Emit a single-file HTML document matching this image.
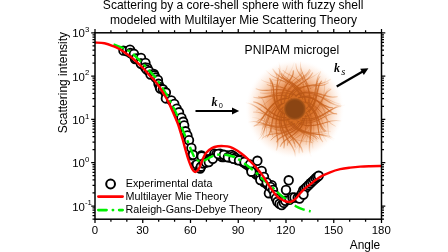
<!DOCTYPE html>
<html><head><meta charset="utf-8"><title>Scattering by a core-shell sphere</title>
<style>
html,body{margin:0;padding:0;background:#fff;}
svg{display:block;font-family:"Liberation Sans",Arial,sans-serif;font-size:12px;fill:#000;}
</style></head><body>
<svg width="448" height="252" viewBox="0 0 448 252">
<defs>
<radialGradient id="glow" cx="50%" cy="50%" r="50%">
<stop offset="0" stop-color="#d2691e" stop-opacity="1"/>
<stop offset="0.3" stop-color="#d66e24" stop-opacity="1"/>
<stop offset="0.42" stop-color="#e07c38" stop-opacity="1"/>
<stop offset="0.57" stop-color="#eea06a" stop-opacity="0.9"/>
<stop offset="0.74" stop-color="#f7c4a0" stop-opacity="0.62"/>
<stop offset="0.9" stop-color="#fde2d0" stop-opacity="0.28"/>
<stop offset="1" stop-color="#ffffff" stop-opacity="0"/>
</radialGradient>
<radialGradient id="core" cx="50%" cy="50%" r="50%">
<stop offset="0" stop-color="#8b4513"/>
<stop offset="0.7" stop-color="#8b4513"/>
<stop offset="0.84" stop-color="#9a4d15" stop-opacity="0.85"/>
<stop offset="1" stop-color="#c4651f" stop-opacity="0"/>
</radialGradient>
<radialGradient id="sg" gradientUnits="userSpaceOnUse" cx="294.8" cy="109.0" r="48">
<stop offset="0" stop-color="#a84e12" stop-opacity="1"/>
<stop offset="0.45" stop-color="#bf5a18" stop-opacity="1"/>
<stop offset="0.7" stop-color="#cf6a26" stop-opacity="0.8"/>
<stop offset="0.88" stop-color="#e08444" stop-opacity="0.4"/>
<stop offset="1" stop-color="#e89050" stop-opacity="0.05"/>
</radialGradient>
<filter id="bl" x="-10%" y="-10%" width="120%" height="120%"><feGaussianBlur stdDeviation="0.18"/></filter>
</defs>
<rect width="448" height="252" fill="#fff"/>
<text x="233.1" y="9.3" text-anchor="middle" font-size="12.05">Scattering by a core-shell sphere with fuzzy shell</text>
<text x="233.5" y="23.7" text-anchor="middle" font-size="12.05">modeled with Multilayer Mie Scattering Theory</text>
<!-- microgel -->
<circle cx="294.8" cy="109.0" r="50" fill="url(#glow)"/>
<g fill="none" stroke="url(#sg)" stroke-linecap="round" filter="url(#bl)"><path d="M306.40,108.63C307.08,107.88 309.36,105.84 310.51,104.14C311.65,102.44 312.54,100.41 313.27,98.44C314.00,96.47 314.46,94.35 314.91,92.34C315.35,90.33 315.59,88.29 315.92,86.38C316.26,84.46 316.49,82.60 316.90,80.85C317.31,79.11 317.75,77.46 318.38,75.92C319.02,74.39 320.32,72.36 320.71,71.65" stroke-width="1.17" opacity="0.81"/><path d="M307.83,109.27C308.26,110.13 309.81,112.62 310.40,114.44C311.00,116.26 311.26,118.30 311.40,120.19C311.54,122.08 311.38,124.01 311.25,125.80C311.12,127.58 310.80,129.30 310.60,130.90C310.41,132.50 310.15,133.99 310.08,135.40C310.02,136.80 310.01,138.09 310.21,139.30C310.41,140.51 311.10,142.11 311.28,142.67" stroke-width="0.93" opacity="0.73"/><path d="M308.83,111.78C309.45,111.05 311.49,108.97 312.50,107.37C313.52,105.77 314.28,103.92 314.92,102.17C315.56,100.42 315.96,98.58 316.35,96.88C316.73,95.17 316.95,93.49 317.25,91.95C317.56,90.41 317.79,88.95 318.16,87.62C318.54,86.30 318.94,85.09 319.51,84.02C320.08,82.95 321.23,81.65 321.57,81.18" stroke-width="1.21" opacity="0.98"/><path d="M306.73,113.00C307.23,113.99 308.99,116.81 309.68,118.93C310.37,121.04 310.69,123.44 310.87,125.71C311.05,127.99 310.91,130.35 310.78,132.59C310.65,134.82 310.30,137.03 310.08,139.14C309.87,141.24 309.57,143.27 309.48,145.23C309.40,147.18 309.36,149.05 309.57,150.86C309.78,152.67 310.54,155.20 310.74,156.07" stroke-width="1.33" opacity="0.79"/><path d="M305.56,112.99C306.38,112.30 309.12,110.52 310.49,108.85C311.86,107.18 312.94,105.02 313.77,102.97C314.60,100.91 315.06,98.64 315.47,96.54C315.87,94.45 315.98,92.33 316.19,90.39C316.40,88.46 316.46,86.61 316.74,84.92C317.01,83.24 317.29,81.69 317.82,80.30C318.34,78.90 319.55,77.18 319.89,76.56" stroke-width="0.99" opacity="0.87"/><path d="M305.49,115.46C305.66,116.44 306.45,119.33 306.52,121.33C306.58,123.33 306.28,125.46 305.89,127.45C305.51,129.44 304.84,131.42 304.21,133.29C303.59,135.16 302.79,136.94 302.14,138.67C301.49,140.40 300.80,142.03 300.31,143.65C299.82,145.26 299.40,146.81 299.21,148.36C299.01,149.90 299.16,152.15 299.15,152.91" stroke-width="0.93" opacity="0.76"/><path d="M304.83,116.80C305.81,116.40 308.89,115.49 310.68,114.37C312.47,113.25 314.15,111.66 315.59,110.09C317.03,108.52 318.23,106.67 319.34,104.96C320.45,103.26 321.33,101.45 322.23,99.84C323.14,98.23 323.91,96.65 324.79,95.29C325.67,93.93 326.53,92.70 327.53,91.68C328.53,90.67 330.26,89.62 330.80,89.21" stroke-width="1.13" opacity="0.79"/><path d="M304.60,118.72C304.25,119.72 303.52,122.89 302.54,124.77C301.56,126.64 300.11,128.42 298.69,129.97C297.28,131.53 295.58,132.86 294.03,134.09C292.47,135.32 290.82,136.33 289.37,137.35C287.91,138.37 286.49,139.26 285.30,140.22C284.11,141.19 283.05,142.12 282.21,143.16C281.38,144.20 280.63,145.92 280.31,146.47" stroke-width="1.16" opacity="0.96"/><path d="M302.55,118.36C303.66,118.46 306.96,119.11 309.21,118.96C311.46,118.82 313.84,118.21 316.05,117.50C318.26,116.80 320.43,115.74 322.47,114.73C324.52,113.73 326.45,112.52 328.34,111.48C330.23,110.43 332.01,109.34 333.80,108.47C335.59,107.61 337.32,106.83 339.09,106.30C340.86,105.77 343.52,105.48 344.41,105.32" stroke-width="1.11" opacity="0.93"/><path d="M303.10,118.95C302.66,119.86 301.61,122.80 300.45,124.46C299.29,126.13 297.70,127.64 296.15,128.93C294.61,130.21 292.82,131.25 291.19,132.20C289.55,133.15 287.85,133.87 286.34,134.63C284.83,135.38 283.37,136.00 282.12,136.73C280.87,137.47 279.76,138.18 278.85,139.03C277.93,139.88 277.02,141.36 276.65,141.83" stroke-width="1.28" opacity="0.87"/><path d="M300.20,120.00C301.32,120.17 304.66,121.07 306.96,121.00C309.25,120.93 311.74,120.32 313.98,119.58C316.23,118.85 318.41,117.69 320.43,116.60C322.45,115.51 324.31,114.17 326.10,113.04C327.89,111.90 329.53,110.71 331.18,109.78C332.83,108.86 334.39,108.03 335.99,107.49C337.58,106.96 339.98,106.73 340.77,106.58" stroke-width="1.19" opacity="0.84"/><path d="M300.04,122.82C299.22,123.65 297.00,126.45 295.13,127.83C293.26,129.21 290.97,130.26 288.81,131.09C286.66,131.92 284.34,132.39 282.20,132.82C280.07,133.25 277.95,133.40 276.03,133.67C274.10,133.93 272.28,134.06 270.64,134.40C269.01,134.74 267.52,135.10 266.21,135.68C264.90,136.27 263.34,137.55 262.76,137.92" stroke-width="0.93" opacity="0.91"/><path d="M299.05,123.36C300.14,123.70 303.35,125.04 305.62,125.40C307.89,125.75 310.37,125.68 312.67,125.50C314.97,125.31 317.28,124.77 319.44,124.28C321.59,123.79 323.66,123.09 325.62,122.56C327.57,122.02 329.41,121.43 331.19,121.07C332.96,120.72 334.64,120.45 336.26,120.44C337.89,120.44 340.16,120.93 340.94,121.03" stroke-width="1.09" opacity="0.90"/><path d="M298.60,121.27C298.04,121.99 296.53,124.32 295.23,125.60C293.93,126.89 292.33,128.00 290.79,128.97C289.25,129.95 287.55,130.72 285.97,131.46C284.39,132.20 282.78,132.78 281.31,133.42C279.83,134.05 278.41,134.60 277.13,135.27C275.86,135.94 274.68,136.61 273.66,137.42C272.64,138.23 271.45,139.68 271.01,140.13" stroke-width="0.93" opacity="0.93"/><path d="M296.85,120.81C297.91,121.17 300.99,122.64 303.22,122.95C305.45,123.25 307.96,123.02 310.23,122.63C312.50,122.24 314.76,121.39 316.82,120.59C318.89,119.79 320.81,118.72 322.62,117.84C324.43,116.95 326.07,115.99 327.69,115.30C329.30,114.61 330.80,114.01 332.29,113.71C333.78,113.41 335.92,113.54 336.64,113.50" stroke-width="0.94" opacity="0.83"/><path d="M294.74,123.53C293.57,124.10 290.25,126.23 287.75,126.93C285.25,127.62 282.37,127.76 279.75,127.69C277.12,127.61 274.45,127.03 272.00,126.48C269.56,125.93 267.24,125.05 265.09,124.38C262.93,123.71 260.95,122.92 259.06,122.44C257.16,121.96 255.42,121.57 253.74,121.50C252.06,121.44 249.77,121.97 248.98,122.07" stroke-width="1.04" opacity="0.82"/><path d="M293.65,123.49C294.48,124.27 296.78,126.84 298.66,128.14C300.54,129.44 302.79,130.46 304.95,131.31C307.11,132.16 309.43,132.71 311.60,133.25C313.78,133.78 315.98,134.09 318.02,134.50C320.06,134.91 322.03,135.23 323.85,135.72C325.67,136.22 327.38,136.75 328.93,137.49C330.49,138.23 332.48,139.73 333.18,140.18" stroke-width="0.99" opacity="0.77"/><path d="M292.78,121.78C291.85,122.27 289.20,124.04 287.21,124.74C285.21,125.43 282.94,125.78 280.81,125.98C278.67,126.18 276.46,126.06 274.39,125.95C272.32,125.85 270.29,125.52 268.38,125.34C266.46,125.15 264.64,124.88 262.91,124.82C261.18,124.76 259.55,124.76 258.00,124.99C256.44,125.23 254.33,126.02 253.59,126.22" stroke-width="0.90" opacity="0.83"/><path d="M291.00,121.71C291.81,122.66 293.91,125.81 295.86,127.40C297.81,128.98 300.33,130.24 302.72,131.22C305.12,132.19 307.77,132.76 310.23,133.25C312.69,133.75 315.18,133.93 317.47,134.21C319.76,134.50 321.96,134.62 323.97,134.98C325.99,135.35 327.85,135.72 329.54,136.38C331.23,137.03 333.34,138.49 334.10,138.92" stroke-width="1.16" opacity="0.89"/><path d="M289.96,119.12C288.78,119.35 285.30,120.51 282.85,120.48C280.40,120.45 277.68,119.78 275.26,118.94C272.83,118.11 270.47,116.75 268.30,115.46C266.13,114.17 264.15,112.59 262.24,111.21C260.34,109.84 258.61,108.38 256.86,107.23C255.10,106.08 253.44,105.02 251.72,104.30C249.99,103.57 247.36,103.11 246.49,102.88" stroke-width="1.34" opacity="0.94"/><path d="M288.71,120.03C289.29,120.87 290.76,123.59 292.15,125.06C293.55,126.52 295.37,127.78 297.10,128.82C298.84,129.86 300.78,130.62 302.57,131.32C304.36,132.01 306.19,132.47 307.83,133.00C309.48,133.53 311.06,133.93 312.45,134.47C313.84,135.02 315.10,135.57 316.19,136.28C317.27,137.00 318.49,138.37 318.95,138.79" stroke-width="0.93" opacity="0.72"/><path d="M288.50,118.80C287.58,118.94 284.86,119.63 282.99,119.65C281.12,119.68 279.13,119.35 277.27,118.95C275.41,118.56 273.58,117.89 271.84,117.27C270.09,116.65 268.43,115.87 266.82,115.23C265.22,114.59 263.69,113.91 262.18,113.42C260.68,112.93 259.23,112.51 257.78,112.29C256.33,112.08 254.21,112.17 253.50,112.14" stroke-width="0.90" opacity="0.75"/><path d="M287.15,118.83C287.66,119.75 288.91,122.72 290.23,124.34C291.56,125.96 293.37,127.39 295.10,128.56C296.83,129.73 298.81,130.59 300.62,131.37C302.43,132.15 304.29,132.66 305.96,133.22C307.62,133.79 309.21,134.20 310.60,134.77C311.98,135.33 313.22,135.88 314.27,136.60C315.31,137.33 316.43,138.70 316.86,139.12" stroke-width="1.21" opacity="0.74"/><path d="M286.01,117.73C285.06,117.62 282.17,117.55 280.31,117.06C278.45,116.57 276.57,115.70 274.85,114.80C273.13,113.89 271.51,112.73 269.97,111.64C268.44,110.55 267.04,109.34 265.65,108.28C264.27,107.21 262.98,106.14 261.66,105.27C260.34,104.39 259.06,103.60 257.74,103.03C256.41,102.46 254.36,102.02 253.69,101.82" stroke-width="1.32" opacity="1.00"/><path d="M284.38,116.67C284.42,117.56 284.31,120.26 284.61,122.02C284.91,123.77 285.54,125.55 286.20,127.20C286.85,128.84 287.74,130.41 288.55,131.89C289.36,133.37 290.29,134.74 291.07,136.07C291.85,137.40 292.64,138.64 293.24,139.88C293.84,141.12 294.36,142.31 294.68,143.52C295.00,144.72 295.09,146.52 295.17,147.11" stroke-width="1.07" opacity="0.78"/><path d="M284.41,114.27C283.60,113.61 280.90,111.92 279.55,110.33C278.20,108.75 277.12,106.69 276.30,104.76C275.48,102.82 275.03,100.68 274.63,98.72C274.23,96.77 274.11,94.80 273.91,93.02C273.70,91.24 273.63,89.55 273.38,88.04C273.12,86.53 272.85,85.16 272.36,83.94C271.87,82.73 270.75,81.29 270.43,80.76" stroke-width="1.16" opacity="0.74"/><path d="M284.62,113.44C284.47,114.58 283.58,117.97 283.76,120.29C283.95,122.61 284.77,125.13 285.74,127.35C286.70,129.57 288.17,131.68 289.54,133.59C290.92,135.50 292.57,137.19 293.99,138.82C295.41,140.44 296.90,141.87 298.09,143.35C299.28,144.83 300.36,146.20 301.12,147.67C301.89,149.14 302.42,151.41 302.68,152.15" stroke-width="1.33" opacity="0.91"/><path d="M283.14,113.41C282.37,112.69 279.78,110.75 278.52,109.05C277.25,107.36 276.29,105.24 275.55,103.24C274.80,101.25 274.41,99.08 274.06,97.09C273.72,95.10 273.64,93.12 273.45,91.31C273.27,89.50 273.22,87.79 272.97,86.24C272.72,84.69 272.45,83.28 271.95,82.02C271.46,80.76 270.33,79.23 270.01,78.67" stroke-width="1.17" opacity="0.93"/><path d="M283.25,111.83C282.88,113.02 281.28,116.45 281.04,118.96C280.80,121.46 281.21,124.32 281.82,126.86C282.44,129.41 283.61,131.94 284.73,134.24C285.85,136.54 287.30,138.65 288.52,140.65C289.75,142.66 291.08,144.46 292.08,146.26C293.08,148.06 293.99,149.74 294.54,151.45C295.10,153.17 295.25,155.70 295.40,156.55" stroke-width="1.33" opacity="0.94"/><path d="M280.86,109.73C280.35,108.81 278.52,106.18 277.79,104.22C277.05,102.27 276.69,100.05 276.46,98.00C276.24,95.94 276.35,93.84 276.44,91.89C276.53,89.95 276.84,88.08 277.01,86.34C277.18,84.61 277.43,82.99 277.47,81.48C277.51,79.97 277.49,78.59 277.25,77.30C277.00,76.01 276.21,74.34 276.00,73.75" stroke-width="1.08" opacity="0.71"/><path d="M282.73,110.03C282.30,110.99 280.66,113.74 280.14,115.78C279.62,117.83 279.53,120.16 279.60,122.29C279.67,124.43 280.14,126.60 280.57,128.60C281.00,130.61 281.68,132.51 282.20,134.30C282.72,136.09 283.33,137.74 283.69,139.33C284.05,140.91 284.35,142.38 284.38,143.81C284.41,145.23 283.95,147.19 283.87,147.86" stroke-width="1.38" opacity="0.83"/><path d="M280.09,106.34C279.61,105.24 277.83,102.07 277.21,99.74C276.60,97.41 276.43,94.80 276.41,92.37C276.38,89.93 276.75,87.45 277.08,85.14C277.41,82.82 277.99,80.59 278.40,78.48C278.81,76.37 279.31,74.39 279.55,72.49C279.79,70.59 279.96,68.81 279.85,67.10C279.73,65.38 279.04,63.03 278.88,62.22" stroke-width="1.01" opacity="0.77"/><path d="M283.12,107.18C282.37,108.09 279.75,110.53 278.63,112.63C277.50,114.72 276.80,117.32 276.37,119.74C275.94,122.16 275.99,124.76 276.06,127.15C276.13,129.53 276.55,131.88 276.81,134.05C277.07,136.22 277.48,138.27 277.63,140.18C277.77,142.10 277.87,143.87 277.66,145.54C277.46,147.20 276.60,149.41 276.38,150.18" stroke-width="1.32" opacity="0.84"/><path d="M281.40,104.31C281.35,103.24 280.89,100.00 281.12,97.91C281.35,95.81 282.05,93.66 282.79,91.74C283.54,89.81 284.62,88.01 285.60,86.36C286.57,84.70 287.71,83.23 288.66,81.83C289.61,80.42 290.57,79.17 291.29,77.93C292.00,76.68 292.60,75.53 292.96,74.36C293.31,73.19 293.33,71.50 293.41,70.92" stroke-width="1.35" opacity="0.93"/><path d="M283.25,103.22C282.41,103.90 279.63,105.67 278.20,107.29C276.78,108.90 275.63,110.96 274.72,112.91C273.81,114.86 273.24,117.02 272.72,118.99C272.21,120.96 271.97,122.94 271.63,124.73C271.30,126.53 271.11,128.23 270.73,129.75C270.36,131.27 269.97,132.64 269.38,133.84C268.78,135.05 267.53,136.44 267.16,136.97" stroke-width="1.07" opacity="0.94"/><path d="M284.44,101.86C284.62,100.71 284.73,97.17 285.50,94.99C286.28,92.80 287.68,90.61 289.11,88.73C290.55,86.86 292.39,85.21 294.09,83.73C295.79,82.24 297.67,81.03 299.31,79.83C300.96,78.63 302.59,77.62 303.96,76.52C305.32,75.41 306.55,74.37 307.49,73.20C308.44,72.03 309.28,70.09 309.63,69.47" stroke-width="1.26" opacity="0.75"/><path d="M284.98,102.82C283.85,103.30 280.27,104.28 278.22,105.67C276.17,107.07 274.26,109.15 272.69,111.20C271.12,113.26 269.88,115.71 268.78,118.00C267.68,120.28 266.91,122.71 266.08,124.91C265.24,127.12 264.61,129.29 263.79,131.21C262.96,133.14 262.17,134.92 261.13,136.47C260.09,138.01 258.15,139.81 257.56,140.48" stroke-width="0.97" opacity="0.95"/><path d="M285.45,99.08C285.79,98.06 286.52,94.86 287.52,92.96C288.51,91.05 289.99,89.24 291.44,87.66C292.89,86.07 294.63,84.70 296.23,83.44C297.84,82.18 299.55,81.14 301.06,80.08C302.57,79.03 304.05,78.11 305.30,77.11C306.55,76.10 307.67,75.13 308.56,74.04C309.45,72.96 310.29,71.16 310.63,70.58" stroke-width="0.97" opacity="0.70"/><path d="M286.59,98.16C285.40,98.42 281.70,98.79 279.46,99.74C277.22,100.70 275.02,102.29 273.16,103.88C271.29,105.48 269.68,107.48 268.24,109.32C266.80,111.16 265.64,113.16 264.49,114.92C263.34,116.68 262.38,118.41 261.31,119.86C260.25,121.32 259.24,122.62 258.09,123.64C256.93,124.66 254.99,125.59 254.37,125.98" stroke-width="1.12" opacity="0.96"/><path d="M288.37,99.06C288.71,98.16 289.48,95.37 290.44,93.70C291.40,92.03 292.76,90.45 294.11,89.05C295.46,87.64 297.05,86.41 298.54,85.26C300.03,84.11 301.61,83.14 303.03,82.14C304.46,81.15 305.87,80.26 307.08,79.29C308.30,78.31 309.41,77.36 310.33,76.29C311.25,75.22 312.21,73.44 312.59,72.87" stroke-width="1.02" opacity="0.88"/><path d="M287.99,98.31C286.91,98.49 283.57,98.65 281.53,99.38C279.48,100.11 277.45,101.39 275.70,102.69C273.95,103.99 272.42,105.65 271.04,107.17C269.65,108.70 268.52,110.37 267.40,111.82C266.27,113.28 265.33,114.71 264.30,115.90C263.28,117.08 262.32,118.13 261.25,118.92C260.18,119.71 258.45,120.36 257.89,120.65" stroke-width="1.08" opacity="0.84"/><path d="M288.99,95.59C289.86,94.72 292.22,91.80 294.22,90.41C296.22,89.03 298.70,88.03 301.00,87.29C303.30,86.55 305.77,86.24 308.02,85.97C310.27,85.70 312.48,85.75 314.49,85.66C316.49,85.58 318.37,85.65 320.05,85.48C321.74,85.31 323.26,85.12 324.62,84.66C325.97,84.21 327.59,83.07 328.18,82.75" stroke-width="1.15" opacity="0.86"/><path d="M291.42,98.45C290.53,98.05 287.99,96.58 286.09,96.06C284.19,95.54 282.06,95.37 280.04,95.33C278.02,95.29 275.95,95.55 274.00,95.80C272.04,96.05 270.13,96.50 268.31,96.82C266.48,97.15 264.74,97.54 263.06,97.74C261.38,97.94 259.77,98.08 258.22,98.00C256.66,97.92 254.47,97.38 253.72,97.26" stroke-width="0.90" opacity="0.94"/><path d="M291.32,96.58C292.07,95.71 294.03,92.82 295.82,91.34C297.61,89.87 299.88,88.68 302.05,87.73C304.22,86.78 306.62,86.18 308.85,85.63C311.08,85.09 313.34,84.83 315.42,84.46C317.51,84.09 319.51,83.87 321.34,83.44C323.17,83.01 324.86,82.56 326.39,81.88C327.92,81.19 329.82,79.75 330.50,79.32" stroke-width="1.06" opacity="0.86"/><path d="M293.46,94.93C292.47,94.60 289.56,93.32 287.53,92.97C285.49,92.63 283.29,92.69 281.27,92.85C279.26,93.02 277.26,93.51 275.43,93.96C273.59,94.40 271.88,95.04 270.27,95.52C268.67,96.00 267.19,96.53 265.79,96.83C264.40,97.14 263.11,97.37 261.88,97.36C260.65,97.35 258.99,96.88 258.42,96.78" stroke-width="1.02" opacity="0.78"/><path d="M295.38,95.98C296.42,95.47 299.39,93.54 301.64,92.89C303.88,92.25 306.47,92.08 308.85,92.11C311.22,92.14 313.66,92.61 315.89,93.06C318.12,93.51 320.26,94.25 322.25,94.81C324.24,95.37 326.09,96.04 327.86,96.43C329.62,96.82 331.26,97.14 332.84,97.16C334.41,97.19 336.57,96.66 337.32,96.56" stroke-width="1.36" opacity="0.83"/><path d="M296.42,96.08C295.51,95.41 292.98,93.05 290.94,92.03C288.90,91.02 286.47,90.39 284.19,89.98C281.92,89.57 279.52,89.56 277.30,89.56C275.09,89.57 272.92,89.85 270.91,90.00C268.90,90.14 267.01,90.40 265.25,90.43C263.48,90.45 261.86,90.43 260.34,90.14C258.83,89.85 256.85,88.93 256.16,88.68" stroke-width="1.13" opacity="0.86"/><path d="M297.74,94.53C298.99,94.25 302.68,92.95 305.23,92.83C307.78,92.72 310.56,93.21 313.04,93.85C315.53,94.48 317.94,95.61 320.14,96.65C322.34,97.69 324.34,99.00 326.23,100.09C328.12,101.18 329.81,102.32 331.48,103.16C333.15,104.00 334.69,104.72 336.23,105.12C337.78,105.51 340.00,105.45 340.76,105.52" stroke-width="1.37" opacity="0.78"/><path d="M299.52,95.00C298.89,94.09 297.24,91.16 295.74,89.51C294.24,87.87 292.35,86.42 290.50,85.14C288.66,83.86 286.62,82.83 284.70,81.84C282.78,80.85 280.81,80.07 279.00,79.22C277.20,78.37 275.44,77.63 273.87,76.75C272.30,75.87 270.84,74.99 269.58,73.94C268.32,72.90 266.85,71.05 266.30,70.47" stroke-width="0.96" opacity="0.83"/><path d="M298.76,97.71C299.75,97.57 302.69,96.80 304.69,96.84C306.69,96.88 308.82,97.38 310.74,97.97C312.67,98.56 314.52,99.50 316.23,100.37C317.93,101.24 319.49,102.30 320.97,103.19C322.46,104.07 323.81,105.00 325.15,105.69C326.48,106.38 327.73,106.98 329.00,107.33C330.26,107.67 332.11,107.70 332.73,107.77" stroke-width="1.29" opacity="0.97"/><path d="M300.97,96.59C300.50,95.64 299.36,92.66 298.17,90.91C296.97,89.17 295.38,87.54 293.82,86.09C292.25,84.64 290.45,83.40 288.77,82.21C287.09,81.03 285.32,80.03 283.73,78.99C282.13,77.95 280.56,77.02 279.19,75.98C277.82,74.95 276.55,73.92 275.49,72.77C274.43,71.62 273.27,69.68 272.83,69.06" stroke-width="1.34" opacity="0.99"/><path d="M302.83,96.56C303.93,96.68 307.29,96.73 309.41,97.29C311.52,97.85 313.64,98.88 315.53,99.93C317.43,100.98 319.17,102.35 320.78,103.59C322.39,104.84 323.82,106.23 325.21,107.42C326.60,108.61 327.84,109.79 329.11,110.73C330.39,111.67 331.59,112.49 332.85,113.05C334.11,113.62 336.03,113.94 336.67,114.12" stroke-width="1.39" opacity="0.95"/><path d="M302.72,99.04C302.44,98.04 301.88,94.92 300.99,93.01C300.11,91.10 298.77,89.24 297.42,87.58C296.07,85.93 294.43,84.45 292.90,83.07C291.37,81.69 289.72,80.49 288.24,79.29C286.76,78.09 285.30,77.01 284.05,75.85C282.80,74.69 281.66,73.56 280.75,72.32C279.83,71.09 278.93,69.07 278.57,68.42" stroke-width="1.00" opacity="0.80"/><path d="M303.29,101.88C304.32,102.09 307.49,102.34 309.47,103.11C311.45,103.87 313.43,105.15 315.19,106.47C316.94,107.79 318.52,109.45 319.99,111.01C321.47,112.58 322.74,114.30 324.02,115.85C325.29,117.39 326.43,118.95 327.66,120.28C328.88,121.61 330.07,122.84 331.38,123.83C332.69,124.82 334.82,125.83 335.51,126.23" stroke-width="0.91" opacity="0.80"/><path d="M305.53,101.57C305.25,100.49 304.79,97.11 303.87,95.11C302.95,93.11 301.48,91.19 300.02,89.56C298.56,87.93 296.76,86.56 295.12,85.33C293.49,84.10 291.72,83.14 290.19,82.18C288.65,81.22 287.16,80.44 285.91,79.56C284.67,78.68 283.57,77.86 282.72,76.90C281.87,75.95 281.14,74.35 280.82,73.84" stroke-width="1.29" opacity="0.99"/><path d="M304.76,102.19C305.64,102.71 308.49,103.96 310.05,105.27C311.61,106.58 312.97,108.35 314.11,110.05C315.24,111.76 316.08,113.70 316.84,115.48C317.60,117.26 318.11,119.10 318.67,120.75C319.24,122.39 319.66,123.97 320.23,125.36C320.81,126.75 321.36,128.00 322.10,129.06C322.83,130.13 324.22,131.29 324.64,131.74" stroke-width="1.04" opacity="0.74"/><path d="M308.09,102.86C308.29,101.74 309.22,98.43 309.29,96.16C309.36,93.89 308.99,91.46 308.52,89.22C308.05,86.97 307.24,84.76 306.49,82.69C305.75,80.62 304.80,78.67 304.03,76.79C303.26,74.92 302.44,73.16 301.87,71.44C301.30,69.72 300.82,68.08 300.60,66.46C300.39,64.84 300.58,62.50 300.58,61.70" stroke-width="0.97" opacity="0.98"/><path d="M307.96,104.84C308.64,105.42 310.86,107.00 312.07,108.31C313.28,109.62 314.32,111.18 315.23,112.68C316.15,114.18 316.88,115.79 317.58,117.30C318.28,118.80 318.83,120.32 319.44,121.71C320.05,123.09 320.58,124.42 321.22,125.60C321.86,126.78 322.51,127.85 323.29,128.78C324.06,129.71 325.44,130.77 325.87,131.17" stroke-width="1.24" opacity="0.83"/><path d="M308.95,104.83C309.13,103.60 310.09,99.93 310.02,97.45C309.95,94.97 309.30,92.33 308.53,89.97C307.76,87.61 306.55,85.35 305.42,83.29C304.30,81.22 302.93,79.36 301.79,77.59C300.66,75.82 299.47,74.24 298.58,72.66C297.70,71.09 296.93,69.63 296.48,68.14C296.03,66.66 295.97,64.49 295.87,63.76" stroke-width="0.94" opacity="0.96"/><path d="M309.00,106.31C309.70,107.11 312.04,109.34 313.19,111.13C314.34,112.92 315.21,115.02 315.91,117.02C316.61,119.01 317.01,121.14 317.40,123.10C317.79,125.07 317.97,127.03 318.25,128.83C318.52,130.63 318.71,132.34 319.07,133.90C319.43,135.46 319.82,136.90 320.41,138.19C321.00,139.48 322.25,141.08 322.62,141.66" stroke-width="1.18" opacity="0.98"/><path d="M293.06,124.45C293.66,125.06 295.31,127.01 296.68,128.07C298.05,129.14 299.65,130.07 301.28,130.84C302.91,131.60 304.70,132.20 306.46,132.68C308.21,133.16 310.05,133.46 311.80,133.72C313.56,133.99 315.34,134.09 316.99,134.26C318.64,134.42 320.30,134.45 321.71,134.73C323.13,135.01 324.88,135.74 325.51,135.94" stroke-width="0.89" opacity="0.50"/><path d="M305.36,131.87C306.04,131.96 308.07,132.32 309.42,132.42C310.78,132.53 312.15,132.54 313.49,132.52C314.83,132.49 316.16,132.38 317.45,132.26C318.74,132.14 320.00,131.96 321.21,131.80C322.42,131.65 323.60,131.45 324.70,131.33C325.80,131.22 326.88,131.07 327.83,131.10C328.79,131.14 330.00,131.48 330.44,131.55" stroke-width="0.70" opacity="0.47"/><path d="M286.66,120.66C286.57,121.25 286.22,123.00 286.11,124.20C285.99,125.39 285.96,126.62 285.97,127.83C285.98,129.05 286.07,130.28 286.17,131.49C286.27,132.71 286.44,133.92 286.59,135.12C286.75,136.32 286.95,137.52 287.10,138.69C287.25,139.87 287.44,141.03 287.50,142.17C287.56,143.31 287.46,144.97 287.46,145.52" stroke-width="0.70" opacity="0.79"/><path d="M277.92,107.49C277.48,106.86 276.04,105.09 275.28,103.75C274.52,102.40 273.89,100.92 273.36,99.43C272.83,97.94 272.45,96.36 272.13,94.81C271.81,93.27 271.62,91.68 271.44,90.16C271.26,88.64 271.19,87.11 271.06,85.68C270.92,84.25 270.88,82.83 270.63,81.59C270.37,80.35 269.72,78.79 269.54,78.23" stroke-width="0.72" opacity="0.76"/><path d="M312.19,105.72C312.52,105.20 313.60,103.69 314.19,102.60C314.79,101.50 315.30,100.34 315.76,99.17C316.22,98.00 316.59,96.78 316.93,95.59C317.28,94.39 317.55,93.18 317.82,92.01C318.09,90.83 318.30,89.66 318.56,88.56C318.81,87.46 319.02,86.36 319.37,85.40C319.72,84.44 320.43,83.24 320.64,82.81" stroke-width="0.83" opacity="0.68"/><path d="M282.42,94.78C281.62,94.94 279.20,95.27 277.65,95.77C276.09,96.26 274.53,96.95 273.08,97.72C271.62,98.50 270.22,99.44 268.91,100.40C267.60,101.36 266.37,102.44 265.22,103.47C264.07,104.50 263.01,105.61 261.99,106.58C260.97,107.54 260.04,108.56 259.09,109.28C258.15,109.99 256.79,110.58 256.33,110.84" stroke-width="0.51" opacity="0.65"/><path d="M308.76,95.87C309.47,96.18 311.66,97.00 313.00,97.76C314.34,98.52 315.63,99.46 316.81,100.44C317.98,101.42 319.07,102.53 320.07,103.63C321.07,104.73 321.96,105.92 322.79,107.03C323.62,108.14 324.34,109.29 325.05,110.31C325.76,111.32 326.37,112.35 327.04,113.10C327.70,113.84 328.70,114.50 329.03,114.79" stroke-width="0.77" opacity="0.51"/><path d="M295.66,126.50C296.10,126.98 297.37,128.51 298.34,129.42C299.31,130.33 300.38,131.19 301.47,131.98C302.57,132.78 303.73,133.51 304.89,134.19C306.05,134.88 307.26,135.50 308.43,136.12C309.59,136.73 310.79,137.29 311.90,137.87C313.01,138.46 314.15,139.00 315.11,139.64C316.08,140.29 317.28,141.40 317.71,141.76" stroke-width="0.50" opacity="0.55"/><path d="M282.51,131.71C283.28,132.34 285.51,134.41 287.13,135.50C288.74,136.59 290.50,137.49 292.21,138.24C293.93,139.00 295.71,139.56 297.39,140.02C299.08,140.48 300.78,140.77 302.33,141.02C303.89,141.28 305.41,141.39 306.74,141.55C308.07,141.70 309.35,141.75 310.32,141.97C311.29,142.18 312.19,142.68 312.56,142.83" stroke-width="0.62" opacity="0.54"/><path d="M313.38,109.12C313.87,108.70 315.40,107.48 316.33,106.55C317.25,105.62 318.12,104.60 318.94,103.56C319.76,102.51 320.52,101.40 321.24,100.30C321.96,99.20 322.62,98.05 323.27,96.94C323.92,95.83 324.52,94.70 325.14,93.65C325.77,92.61 326.35,91.54 327.02,90.64C327.70,89.75 328.85,88.67 329.21,88.27" stroke-width="0.81" opacity="0.44"/><path d="M301.23,94.65C301.74,94.22 303.23,92.86 304.31,92.06C305.39,91.26 306.56,90.52 307.73,89.83C308.91,89.13 310.14,88.51 311.37,87.90C312.60,87.30 313.87,86.76 315.12,86.21C316.36,85.67 317.63,85.18 318.85,84.64C320.07,84.11 321.30,83.62 322.44,83.02C323.57,82.43 325.12,81.38 325.65,81.05" stroke-width="0.62" opacity="0.49"/><path d="M277.32,98.58C277.28,97.69 276.98,95.06 277.07,93.28C277.17,91.50 277.47,89.66 277.89,87.90C278.31,86.14 278.92,84.38 279.57,82.71C280.22,81.04 281.03,79.42 281.80,77.88C282.57,76.34 283.45,74.88 284.19,73.48C284.94,72.08 285.77,70.76 286.27,69.50C286.77,68.23 287.05,66.51 287.20,65.91" stroke-width="0.79" opacity="0.60"/><path d="M290.23,129.93C289.48,130.05 287.20,130.54 285.69,130.65C284.17,130.76 282.62,130.71 281.13,130.59C279.64,130.47 278.16,130.20 276.76,129.91C275.36,129.62 274.00,129.22 272.73,128.85C271.45,128.48 270.24,128.03 269.12,127.68C268.01,127.33 266.95,126.93 266.03,126.76C265.10,126.60 263.99,126.71 263.59,126.70" stroke-width="0.82" opacity="0.46"/><path d="M274.97,106.02C274.35,106.70 272.34,108.60 271.23,110.10C270.12,111.60 269.16,113.30 268.34,115.02C267.52,116.74 266.87,118.59 266.31,120.40C265.76,122.21 265.38,124.09 265.03,125.88C264.67,127.66 264.46,129.47 264.19,131.12C263.92,132.78 263.77,134.44 263.38,135.83C263.00,137.22 262.13,138.86 261.88,139.46" stroke-width="0.73" opacity="0.76"/><path d="M285.67,88.63C285.19,88.49 283.75,88.00 282.78,87.75C281.82,87.49 280.83,87.28 279.86,87.10C278.89,86.91 277.92,86.77 276.97,86.63C276.02,86.49 275.07,86.39 274.16,86.27C273.25,86.15 272.36,86.05 271.51,85.90C270.67,85.76 269.84,85.63 269.10,85.40C268.36,85.16 267.43,84.65 267.09,84.50" stroke-width="0.75" opacity="0.78"/><path d="M280.93,122.59C281.13,123.24 281.64,125.24 282.15,126.50C282.66,127.76 283.30,129.00 283.98,130.17C284.66,131.33 285.45,132.45 286.23,133.49C287.01,134.54 287.87,135.52 288.67,136.45C289.47,137.38 290.31,138.24 291.04,139.07C291.77,139.90 292.52,140.67 293.04,141.43C293.55,142.20 293.93,143.28 294.11,143.65" stroke-width="0.77" opacity="0.60"/><path d="M318.37,109.49C318.80,108.74 320.22,106.54 320.94,104.97C321.67,103.39 322.25,101.70 322.73,100.04C323.21,98.38 323.54,96.66 323.81,95.00C324.08,93.33 324.21,91.66 324.35,90.07C324.48,88.49 324.51,86.93 324.62,85.49C324.72,84.06 324.74,82.66 324.98,81.47C325.22,80.29 325.87,78.92 326.05,78.41" stroke-width="0.53" opacity="0.69"/><path d="M294.59,123.89C294.94,124.41 295.90,126.02 296.68,127.02C297.46,128.01 298.34,128.97 299.26,129.87C300.17,130.77 301.17,131.62 302.17,132.43C303.17,133.24 304.23,134.00 305.26,134.74C306.29,135.48 307.35,136.18 308.35,136.89C309.34,137.61 310.36,138.27 311.23,139.03C312.10,139.78 313.17,141.02 313.56,141.41" stroke-width="0.76" opacity="0.58"/><path d="M303.23,96.69C304.11,96.47 306.68,95.59 308.51,95.37C310.35,95.14 312.32,95.16 314.24,95.34C316.15,95.53 318.13,95.95 320.02,96.45C321.92,96.96 323.80,97.67 325.61,98.38C327.41,99.08 329.17,99.95 330.86,100.70C332.55,101.45 334.18,102.33 335.76,102.87C337.35,103.41 339.59,103.77 340.36,103.95" stroke-width="0.75" opacity="0.66"/><path d="M308.74,116.38C308.90,117.06 309.54,119.08 309.74,120.49C309.94,121.90 309.98,123.39 309.94,124.85C309.89,126.31 309.70,127.80 309.47,129.24C309.23,130.68 308.87,132.12 308.52,133.49C308.17,134.87 307.73,136.22 307.37,137.50C307.02,138.78 306.59,140.03 306.40,141.20C306.21,142.37 306.25,143.96 306.23,144.51" stroke-width="0.55" opacity="0.59"/><path d="M269.23,111.29C269.14,112.09 268.76,114.52 268.70,116.09C268.65,117.66 268.75,119.23 268.90,120.71C269.06,122.19 269.35,123.63 269.65,124.97C269.95,126.31 270.34,127.59 270.70,128.77C271.06,129.95 271.48,131.04 271.80,132.03C272.13,133.01 272.49,133.93 272.64,134.68C272.79,135.43 272.70,136.22 272.71,136.53" stroke-width="0.62" opacity="0.61"/><path d="M275.68,113.32C275.45,113.85 274.66,115.42 274.25,116.51C273.85,117.60 273.51,118.74 273.23,119.86C272.94,120.98 272.73,122.13 272.54,123.25C272.35,124.36 272.22,125.48 272.08,126.55C271.94,127.62 271.85,128.68 271.71,129.66C271.57,130.65 271.46,131.62 271.22,132.46C270.98,133.31 270.43,134.34 270.27,134.72" stroke-width="0.53" opacity="0.59"/><path d="M291.13,123.46C290.35,123.82 288.11,125.09 286.44,125.60C284.77,126.11 282.91,126.41 281.10,126.53C279.28,126.65 277.37,126.54 275.53,126.34C273.70,126.13 271.85,125.70 270.09,125.28C268.34,124.85 266.62,124.25 265.00,123.76C263.38,123.27 261.82,122.64 260.38,122.35C258.94,122.05 257.02,122.05 256.35,121.99" stroke-width="0.65" opacity="0.77"/><path d="M308.30,102.70C308.94,103.09 310.95,104.11 312.15,105.05C313.34,105.99 314.48,107.14 315.48,108.34C316.48,109.54 317.37,110.90 318.16,112.25C318.95,113.60 319.61,115.05 320.22,116.44C320.83,117.82 321.31,119.26 321.81,120.56C322.32,121.86 322.71,123.18 323.25,124.25C323.79,125.31 324.75,126.49 325.06,126.94" stroke-width="0.55" opacity="0.73"/><path d="M270.19,107.65C269.77,108.32 268.39,110.27 267.64,111.66C266.90,113.06 266.26,114.54 265.70,116.00C265.14,117.46 264.70,118.97 264.30,120.43C263.90,121.88 263.60,123.36 263.30,124.75C263.01,126.14 262.79,127.52 262.52,128.78C262.25,130.03 262.04,131.27 261.67,132.29C261.30,133.31 260.52,134.46 260.29,134.90" stroke-width="0.85" opacity="0.56"/><path d="M308.54,130.37C308.24,131.00 307.44,132.95 306.79,134.19C306.14,135.42 305.39,136.61 304.63,137.75C303.87,138.90 303.03,139.99 302.22,141.04C301.40,142.08 300.54,143.07 299.74,144.03C298.93,144.99 298.11,145.89 297.39,146.78C296.68,147.67 295.95,148.52 295.45,149.36C294.94,150.21 294.56,151.44 294.38,151.86" stroke-width="0.56" opacity="0.54"/><path d="M285.09,131.04C284.26,130.84 281.71,130.38 280.13,129.86C278.56,129.35 277.05,128.65 275.65,127.92C274.25,127.20 272.95,126.34 271.75,125.50C270.55,124.65 269.47,123.73 268.47,122.88C267.47,122.03 266.59,121.14 265.77,120.39C264.96,119.64 264.23,118.88 263.58,118.39C262.93,117.91 262.14,117.64 261.85,117.49" stroke-width="0.55" opacity="0.77"/><path d="M289.09,84.85C289.43,84.47 290.46,83.30 291.17,82.58C291.89,81.86 292.64,81.17 293.39,80.52C294.13,79.86 294.89,79.24 295.63,78.64C296.37,78.04 297.11,77.48 297.81,76.92C298.50,76.37 299.19,75.84 299.81,75.30C300.42,74.77 301.03,74.25 301.48,73.71C301.94,73.16 302.37,72.31 302.55,72.04" stroke-width="0.66" opacity="0.75"/><path d="M317.07,120.59C317.70,120.27 319.62,119.39 320.84,118.68C322.05,117.97 323.23,117.16 324.36,116.34C325.48,115.52 326.55,114.62 327.59,113.75C328.62,112.87 329.59,111.95 330.54,111.08C331.49,110.21 332.38,109.33 333.27,108.55C334.16,107.77 335.00,106.98 335.87,106.41C336.73,105.84 338.02,105.35 338.45,105.13" stroke-width="0.52" opacity="0.66"/><path d="M284.36,97.16C284.29,96.30 283.90,93.74 283.93,91.98C283.97,90.23 284.22,88.40 284.58,86.63C284.94,84.85 285.49,83.06 286.10,81.33C286.70,79.60 287.47,77.90 288.22,76.25C288.97,74.60 289.83,72.99 290.60,71.42C291.36,69.85 292.22,68.34 292.79,66.83C293.36,65.32 293.83,63.12 294.04,62.38" stroke-width="0.58" opacity="0.55"/><path d="M318.48,102.31C319.10,103.11 321.13,105.41 322.20,107.13C323.27,108.85 324.16,110.74 324.89,112.61C325.63,114.47 326.17,116.44 326.62,118.34C327.06,120.23 327.32,122.15 327.56,123.95C327.79,125.75 327.87,127.53 328.03,129.14C328.19,130.75 328.22,132.32 328.49,133.59C328.76,134.86 329.46,136.23 329.65,136.76" stroke-width="0.88" opacity="0.62"/><path d="M292.03,94.67C292.42,93.94 293.42,91.67 294.37,90.28C295.32,88.89 296.49,87.55 297.74,86.33C298.98,85.11 300.40,83.98 301.84,82.94C303.27,81.90 304.82,80.98 306.33,80.09C307.84,79.21 309.42,78.43 310.90,77.63C312.37,76.83 313.89,76.14 315.17,75.29C316.45,74.44 318.00,73.00 318.57,72.54" stroke-width="0.56" opacity="0.75"/><path d="M269.96,111.26C269.69,111.96 268.77,114.05 268.32,115.48C267.88,116.91 267.55,118.39 267.28,119.83C267.02,121.28 266.86,122.74 266.74,124.14C266.61,125.55 266.58,126.94 266.53,128.25C266.48,129.56 266.50,130.84 266.45,132.02C266.39,133.19 266.39,134.33 266.21,135.29C266.04,136.25 265.51,137.35 265.37,137.76" stroke-width="0.64" opacity="0.52"/><path d="M293.03,83.35C292.44,83.14 290.66,82.48 289.47,82.14C288.29,81.81 287.09,81.55 285.92,81.34C284.76,81.13 283.60,80.99 282.49,80.86C281.38,80.73 280.30,80.66 279.28,80.58C278.26,80.49 277.28,80.45 276.39,80.36C275.50,80.26 274.64,80.20 273.94,80.01C273.24,79.82 272.49,79.36 272.19,79.23" stroke-width="0.72" opacity="0.56"/><path d="M302.71,122.84C302.50,123.48 302.00,125.44 301.46,126.70C300.92,127.95 300.22,129.19 299.48,130.37C298.73,131.54 297.85,132.67 296.97,133.74C296.09,134.81 295.11,135.82 294.17,136.80C293.24,137.77 292.24,138.68 291.35,139.58C290.45,140.48 289.52,141.32 288.81,142.20C288.11,143.09 287.40,144.44 287.12,144.89" stroke-width="0.68" opacity="0.53"/><path d="M295.91,89.90C295.57,89.38 294.62,87.76 293.88,86.75C293.14,85.73 292.32,84.75 291.48,83.81C290.64,82.86 289.73,81.96 288.83,81.08C287.93,80.20 286.98,79.36 286.07,78.53C285.15,77.70 284.21,76.91 283.34,76.10C282.47,75.29 281.59,74.51 280.85,73.68C280.11,72.84 279.25,71.50 278.93,71.07" stroke-width="0.64" opacity="0.44"/><path d="M295.97,126.06C296.63,126.54 298.52,128.10 299.97,128.91C301.42,129.72 303.03,130.39 304.65,130.93C306.27,131.47 307.99,131.85 309.67,132.15C311.35,132.45 313.09,132.59 314.74,132.72C316.40,132.85 318.06,132.85 319.61,132.92C321.16,132.99 322.70,132.95 324.04,133.16C325.39,133.36 327.09,133.98 327.69,134.15" stroke-width="0.67" opacity="0.57"/><path d="M276.49,106.20C275.98,106.67 274.38,107.99 273.44,109.02C272.50,110.05 271.63,111.19 270.83,112.36C270.04,113.52 269.33,114.77 268.68,115.99C268.03,117.22 267.46,118.50 266.91,119.72C266.36,120.94 265.89,122.18 265.38,123.32C264.87,124.45 264.43,125.60 263.87,126.54C263.31,127.49 262.32,128.57 262.01,128.97" stroke-width="0.73" opacity="0.54"/><path d="M286.92,90.24C286.35,89.88 284.67,88.75 283.47,88.11C282.27,87.46 281.01,86.89 279.74,86.37C278.48,85.84 277.17,85.38 275.87,84.95C274.58,84.52 273.26,84.15 271.97,83.77C270.69,83.40 269.40,83.07 268.16,82.69C266.93,82.31 265.70,81.98 264.58,81.51C263.46,81.04 261.97,80.15 261.45,79.88" stroke-width="0.86" opacity="0.55"/><path d="M283.12,93.78C282.56,93.67 280.88,93.28 279.75,93.12C278.61,92.97 277.44,92.89 276.29,92.84C275.14,92.79 273.97,92.81 272.83,92.84C271.69,92.87 270.56,92.95 269.45,93.02C268.34,93.08 267.25,93.19 266.20,93.23C265.14,93.27 264.10,93.35 263.13,93.27C262.16,93.20 260.82,92.88 260.36,92.80" stroke-width="0.67" opacity="0.71"/><path d="M303.36,84.85C302.86,84.35 301.41,82.77 300.36,81.84C299.32,80.90 298.19,80.05 297.08,79.25C295.97,78.46 294.81,77.75 293.69,77.08C292.57,76.41 291.44,75.82 290.37,75.24C289.31,74.67 288.25,74.16 287.32,73.63C286.38,73.10 285.45,72.63 284.75,72.08C284.05,71.54 283.37,70.65 283.10,70.37" stroke-width="0.87" opacity="0.73"/><path d="M310.59,88.76C310.32,88.25 309.56,86.65 308.98,85.65C308.41,84.66 307.78,83.70 307.15,82.79C306.52,81.88 305.85,81.02 305.20,80.20C304.56,79.38 303.90,78.60 303.29,77.86C302.68,77.12 302.07,76.42 301.55,75.75C301.04,75.08 300.52,74.45 300.19,73.83C299.86,73.22 299.67,72.37 299.57,72.08" stroke-width="0.56" opacity="0.79"/><path d="M313.32,124.11C313.39,124.72 313.63,126.56 313.69,127.79C313.76,129.03 313.75,130.27 313.71,131.50C313.67,132.73 313.57,133.96 313.47,135.16C313.36,136.36 313.21,137.55 313.09,138.70C312.96,139.86 312.81,140.99 312.72,142.08C312.63,143.18 312.52,144.25 312.56,145.25C312.61,146.25 312.92,147.61 312.99,148.09" stroke-width="0.81" opacity="0.40"/><path d="M309.47,123.79C309.07,124.53 307.99,126.84 307.05,128.21C306.11,129.58 304.99,130.87 303.85,132.02C302.70,133.18 301.42,134.21 300.18,135.14C298.94,136.07 297.62,136.86 296.40,137.59C295.17,138.32 293.92,138.93 292.83,139.52C291.74,140.12 290.64,140.61 289.85,141.16C289.06,141.71 288.37,142.55 288.08,142.83" stroke-width="0.75" opacity="0.61"/><path d="M273.40,117.87C272.93,117.37 271.45,115.90 270.60,114.84C269.75,113.79 268.98,112.66 268.29,111.54C267.60,110.43 267.00,109.27 266.45,108.16C265.90,107.05 265.43,105.93 264.99,104.88C264.54,103.84 264.17,102.80 263.78,101.89C263.38,100.98 263.05,100.09 262.64,99.41C262.23,98.74 261.54,98.11 261.32,97.85" stroke-width="0.73" opacity="0.56"/><path d="M298.30,129.92C297.52,130.27 295.21,131.49 293.60,132.03C291.99,132.56 290.29,132.91 288.65,133.13C287.02,133.36 285.35,133.40 283.79,133.38C282.22,133.36 280.68,133.18 279.26,133.00C277.83,132.83 276.47,132.54 275.25,132.34C274.03,132.13 272.87,131.84 271.92,131.78C270.97,131.73 269.96,131.96 269.57,131.99" stroke-width="0.61" opacity="0.53"/><path d="M303.81,94.69C303.84,94.06 304.02,92.16 304.02,90.88C304.01,89.60 303.92,88.30 303.78,87.02C303.65,85.73 303.44,84.44 303.21,83.17C302.98,81.90 302.69,80.63 302.42,79.38C302.15,78.13 301.83,76.90 301.57,75.68C301.31,74.46 301.02,73.25 300.86,72.07C300.71,70.89 300.70,69.16 300.67,68.58" stroke-width="0.66" opacity="0.66"/><path d="M310.15,114.56C310.68,115.11 312.32,116.67 313.30,117.83C314.27,119.00 315.18,120.27 316.03,121.56C316.88,122.85 317.65,124.22 318.38,125.59C319.12,126.95 319.79,128.37 320.45,129.76C321.11,131.16 321.71,132.58 322.35,133.94C323.00,135.31 323.58,136.70 324.30,137.96C325.01,139.22 326.24,140.93 326.63,141.52" stroke-width="0.59" opacity="0.57"/><path d="M281.15,123.50C280.41,123.52 278.23,123.68 276.75,123.61C275.28,123.54 273.77,123.33 272.31,123.05C270.84,122.78 269.37,122.39 267.94,121.98C266.52,121.57 265.12,121.06 263.76,120.58C262.40,120.11 261.08,119.56 259.79,119.11C258.51,118.66 257.26,118.16 256.06,117.89C254.86,117.61 253.17,117.54 252.60,117.47" stroke-width="0.66" opacity="0.40"/><path d="M288.49,132.30C287.57,132.22 284.74,132.12 282.96,131.78C281.19,131.44 279.44,130.89 277.83,130.27C276.22,129.65 274.69,128.86 273.29,128.07C271.89,127.28 270.61,126.37 269.43,125.53C268.26,124.69 267.21,123.78 266.25,123.02C265.29,122.27 264.44,121.48 263.69,120.99C262.94,120.51 262.07,120.26 261.74,120.11" stroke-width="0.62" opacity="0.73"/></g>
<circle cx="294.8" cy="109.0" r="12" fill="url(#core)"/>
<!-- data -->
<g fill="#fff" stroke="#000" stroke-width="1.8"><circle cx="123.47" cy="50.66" r="4.3"/><circle cx="126.65" cy="51.19" r="4.3"/><circle cx="130.64" cy="51.12" r="4.3"/><circle cx="129.96" cy="49.76" r="4.3"/><circle cx="130.40" cy="53.05" r="4.3"/><circle cx="133.80" cy="55.83" r="4.3"/><circle cx="133.94" cy="53.82" r="4.3"/><circle cx="135.03" cy="59.09" r="4.3"/><circle cx="136.20" cy="58.40" r="4.3"/><circle cx="141.01" cy="57.94" r="4.3"/><circle cx="141.00" cy="63.71" r="4.3"/><circle cx="140.81" cy="63.38" r="4.3"/><circle cx="145.45" cy="63.01" r="4.3"/><circle cx="145.18" cy="67.52" r="4.3"/><circle cx="147.37" cy="67.88" r="4.3"/><circle cx="146.74" cy="69.66" r="4.3"/><circle cx="149.03" cy="71.26" r="4.3"/><circle cx="150.51" cy="74.58" r="4.3"/><circle cx="153.87" cy="73.83" r="4.3"/><circle cx="154.48" cy="75.32" r="4.3"/><circle cx="155.44" cy="77.57" r="4.3"/><circle cx="157.90" cy="79.93" r="4.3"/><circle cx="158.50" cy="83.81" r="4.3"/><circle cx="159.80" cy="86.95" r="4.3"/><circle cx="160.24" cy="88.46" r="4.3"/><circle cx="162.86" cy="89.30" r="4.3"/><circle cx="165.35" cy="92.33" r="4.3"/><circle cx="165.85" cy="92.53" r="4.3"/><circle cx="165.88" cy="98.43" r="4.3"/><circle cx="206.74" cy="159.54" r="4.3"/><circle cx="208.65" cy="159.26" r="4.3"/><circle cx="210.56" cy="159.49" r="4.3"/><circle cx="212.47" cy="157.35" r="4.3"/><circle cx="214.38" cy="153.63" r="4.3"/><circle cx="216.29" cy="154.45" r="4.3"/><circle cx="218.20" cy="155.40" r="4.3"/><circle cx="220.11" cy="153.70" r="4.3"/><circle cx="222.02" cy="157.05" r="4.3"/><circle cx="223.93" cy="157.04" r="4.3"/><circle cx="225.84" cy="156.83" r="4.3"/><circle cx="227.75" cy="155.41" r="4.3"/><circle cx="229.66" cy="157.43" r="4.3"/><circle cx="231.57" cy="154.85" r="4.3"/><circle cx="233.48" cy="156.26" r="4.3"/><circle cx="235.39" cy="157.78" r="4.3"/><circle cx="237.30" cy="160.11" r="4.3"/><circle cx="239.21" cy="160.04" r="4.3"/><circle cx="241.12" cy="159.73" r="4.3"/><circle cx="243.03" cy="162.06" r="4.3"/><circle cx="244.94" cy="163.38" r="4.3"/><circle cx="246.85" cy="164.67" r="4.3"/><circle cx="248.76" cy="165.52" r="4.3"/><circle cx="250.67" cy="168.13" r="4.3"/><circle cx="252.58" cy="169.76" r="4.3"/><circle cx="254.49" cy="172.87" r="4.3"/><circle cx="256.40" cy="174.62" r="4.3"/><circle cx="258.31" cy="175.14" r="4.3"/><circle cx="260.22" cy="176.73" r="4.3"/><circle cx="262.13" cy="180.02" r="4.3"/><circle cx="264.04" cy="182.20" r="4.3"/><circle cx="265.95" cy="182.93" r="4.3"/><circle cx="267.86" cy="185.19" r="4.3"/><circle cx="269.77" cy="187.48" r="4.3"/><circle cx="271.68" cy="185.11" r="4.3"/><circle cx="171.30" cy="100.40" r="4.3"/><circle cx="174.30" cy="103.90" r="4.3"/><circle cx="176.70" cy="108.70" r="4.3"/><circle cx="179.00" cy="112.30" r="4.3"/><circle cx="181.40" cy="117.60" r="4.3"/><circle cx="183.20" cy="121.80" r="4.3"/><circle cx="184.20" cy="125.50" r="4.3"/><circle cx="185.50" cy="131.30" r="4.3"/><circle cx="187.40" cy="135.50" r="4.3"/><circle cx="189.00" cy="140.20" r="4.3"/><circle cx="191.40" cy="148.00" r="4.3"/><circle cx="191.90" cy="155.40" r="4.3"/><circle cx="193.00" cy="154.80" r="4.3"/><circle cx="195.50" cy="165.50" r="4.3"/><circle cx="196.90" cy="164.40" r="4.3"/><circle cx="200.20" cy="168.50" r="4.3"/><circle cx="200.90" cy="166.70" r="4.3"/><circle cx="201.40" cy="155.40" r="4.3"/><circle cx="201.70" cy="156.40" r="4.3"/><circle cx="203.50" cy="163.50" r="4.3"/><circle cx="206.00" cy="162.50" r="4.3"/><circle cx="208.80" cy="162.00" r="4.3"/><circle cx="212.80" cy="158.80" r="4.3"/><circle cx="218.30" cy="154.00" r="4.3"/><circle cx="223.90" cy="154.80" r="4.3"/><circle cx="227.90" cy="157.20" r="4.3"/><circle cx="233.40" cy="158.80" r="4.3"/><circle cx="239.00" cy="160.40" r="4.3"/><circle cx="244.50" cy="162.00" r="4.3"/><circle cx="250.00" cy="164.40" r="4.3"/><circle cx="251.40" cy="171.70" r="4.3"/><circle cx="257.40" cy="160.80" r="4.3"/><circle cx="260.30" cy="180.00" r="4.3"/><circle cx="261.70" cy="171.00" r="4.3"/><circle cx="264.00" cy="177.00" r="4.3"/><circle cx="266.70" cy="182.50" r="4.3"/><circle cx="268.90" cy="193.20" r="4.3"/><circle cx="270.50" cy="187.00" r="4.3"/><circle cx="273.00" cy="190.00" r="4.3"/><circle cx="274.50" cy="195.00" r="4.3"/><circle cx="276.00" cy="198.50" r="4.3"/><circle cx="277.40" cy="201.80" r="4.3"/><circle cx="279.50" cy="203.80" r="4.3"/><circle cx="281.70" cy="205.00" r="4.3"/><circle cx="283.90" cy="202.90" r="4.3"/><circle cx="285.30" cy="200.80" r="4.3"/><circle cx="286.00" cy="190.00" r="4.3"/><circle cx="288.70" cy="180.30" r="4.3"/><circle cx="289.50" cy="199.80" r="4.3"/><circle cx="292.40" cy="197.50" r="4.3"/><circle cx="294.50" cy="197.50" r="4.3"/><circle cx="297.70" cy="197.80" r="4.3"/><circle cx="300.10" cy="196.70" r="4.3"/><circle cx="301.70" cy="193.60" r="4.3"/><circle cx="303.20" cy="190.30" r="4.3"/><circle cx="305.00" cy="188.70" r="4.3"/><circle cx="306.80" cy="186.90" r="4.3"/><circle cx="308.60" cy="185.10" r="4.3"/><circle cx="310.40" cy="183.30" r="4.3"/><circle cx="312.20" cy="181.60" r="4.3"/><circle cx="314.00" cy="179.90" r="4.3"/><circle cx="315.70" cy="178.30" r="4.3"/><circle cx="317.20" cy="177.00" r="4.3"/><circle cx="318.70" cy="175.80" r="4.3"/><circle cx="299.50" cy="198.50" r="4.3"/><circle cx="303.50" cy="194.50" r="4.3"/></g>
<path d="M113.53,44.30C115.08,44.90 120.06,46.65 122.87,47.90C125.68,49.15 127.96,50.07 130.40,51.80C132.84,53.53 135.32,56.22 137.50,58.30C139.68,60.38 141.52,62.22 143.50,64.30C145.48,66.38 147.42,68.62 149.40,70.80C151.38,72.98 153.05,74.27 155.40,77.40C157.75,80.53 161.45,86.37 163.50,89.60C165.55,92.83 166.20,94.12 167.70,96.80C169.20,99.48 171.10,103.02 172.50,105.70C173.90,108.38 174.92,110.12 176.10,112.90C177.28,115.68 178.43,119.43 179.60,122.40C180.77,125.37 182.12,128.32 183.10,130.70C184.08,133.08 184.60,134.62 185.50,136.70C186.40,138.78 187.62,141.12 188.50,143.20C189.38,145.28 190.04,147.32 190.80,149.20C191.56,151.08 192.38,153.03 193.06,154.50C193.75,155.97 194.22,157.05 194.91,158.00C195.61,158.95 196.23,159.67 197.22,160.20C198.22,160.73 199.60,161.21 200.90,161.20C202.20,161.19 203.67,160.67 205.00,160.13C206.33,159.60 207.35,158.77 208.90,157.98C210.45,157.19 212.62,155.96 214.30,155.40C215.98,154.84 217.32,154.70 219.00,154.60C220.68,154.50 222.70,154.65 224.40,154.80C226.10,154.95 227.52,155.10 229.20,155.50C230.88,155.90 232.70,156.40 234.50,157.20C236.30,158.00 237.83,158.87 240.00,160.30C242.17,161.73 245.35,164.18 247.50,165.80C249.65,167.42 251.23,168.63 252.90,170.00C254.57,171.37 255.97,172.58 257.50,174.00C259.03,175.42 260.33,176.87 262.10,178.50C263.87,180.13 266.30,182.22 268.10,183.80C269.90,185.38 271.15,186.42 272.90,188.00C274.65,189.58 276.27,191.32 278.60,193.30C280.93,195.28 284.03,197.75 286.90,199.90C289.77,202.05 293.12,204.62 295.80,206.20C298.48,207.78 300.52,208.55 303.00,209.40C305.48,210.25 309.42,210.98 310.70,211.30" fill="none" stroke="#00f000" stroke-width="2.4" stroke-dasharray="11 4 3 4"/>
<path d="M95.00,42.50C96.58,42.63 101.47,42.70 104.50,43.30C107.53,43.90 110.73,45.15 113.20,46.10C115.68,47.05 117.26,47.82 119.35,49.00C121.43,50.18 123.61,51.73 125.69,53.20C127.77,54.67 129.80,56.15 131.82,57.80C133.85,59.45 135.84,61.23 137.85,63.10C139.86,64.97 141.88,66.92 143.87,69.00C145.86,71.08 148.32,74.02 149.80,75.60C151.27,77.18 151.32,76.85 152.75,78.50C154.18,80.15 156.46,82.75 158.40,85.50C160.34,88.25 162.72,92.23 164.40,95.00C166.08,97.77 167.25,99.72 168.46,102.10C169.68,104.48 170.56,106.72 171.69,109.30C172.83,111.88 174.17,115.02 175.26,117.60C176.35,120.18 177.37,122.42 178.23,124.80C179.09,127.18 179.57,129.13 180.41,131.90C181.24,134.67 182.37,138.42 183.21,141.40C184.06,144.38 184.55,146.58 185.47,149.80C186.39,153.02 187.72,157.68 188.76,160.70C189.79,163.72 190.87,166.18 191.69,167.90C192.51,169.62 193.07,170.32 193.67,171.00C194.26,171.68 194.71,172.00 195.25,172.00C195.80,172.00 196.26,171.68 196.93,171.00C197.61,170.32 198.36,169.82 199.31,167.90C200.26,165.98 201.53,162.00 202.65,159.50C203.77,157.00 204.46,154.80 206.00,152.90C207.54,151.00 209.92,149.20 211.90,148.10C213.88,147.00 215.92,146.63 217.90,146.30C219.88,145.97 221.82,146.00 223.80,146.10C225.78,146.20 227.87,146.33 229.80,146.90C231.73,147.47 233.53,148.43 235.40,149.50C237.27,150.57 239.08,151.87 241.00,153.30C242.92,154.73 244.92,156.32 246.90,158.10C248.88,159.88 250.92,161.92 252.90,164.00C254.88,166.08 257.28,168.83 258.80,170.60C260.32,172.37 260.87,173.03 262.00,174.60C263.13,176.17 264.02,177.55 265.60,180.00C267.18,182.45 269.52,186.50 271.50,189.30C273.48,192.10 275.45,194.92 277.50,196.80C279.55,198.68 282.12,199.77 283.80,200.60C285.48,201.43 286.47,201.57 287.60,201.80C288.73,202.03 289.63,202.20 290.60,202.00C291.57,201.80 292.45,201.27 293.40,200.60C294.35,199.93 295.20,199.18 296.30,198.00C297.40,196.82 298.55,195.10 300.00,193.50C301.45,191.90 303.33,189.90 305.00,188.40C306.67,186.90 307.50,186.40 310.00,184.50C312.50,182.60 316.65,179.03 320.00,177.00C323.35,174.97 326.73,173.60 330.10,172.30C333.47,171.00 336.85,169.98 340.20,169.20C343.55,168.42 346.87,168.03 350.20,167.60C353.53,167.17 356.85,166.83 360.20,166.60C363.55,166.37 366.83,166.30 370.30,166.20C373.77,166.10 379.22,166.03 381.00,166.00" fill="none" stroke="#ff0000" stroke-width="2.4"/>
<!-- axes -->
<rect x="95.0" y="32.8" width="286.5" height="186.39999999999998" fill="none" stroke="#000" stroke-width="1.5"/>
<path d="M95.00,219.2v3.8M95.00,32.8v-3.8M110.92,219.2v2.5M110.92,32.8v-2.5M126.83,219.2v2.5M126.83,32.8v-2.5M142.75,219.2v3.8M142.75,32.8v-3.8M158.67,219.2v2.5M158.67,32.8v-2.5M174.58,219.2v2.5M174.58,32.8v-2.5M190.50,219.2v3.8M190.50,32.8v-3.8M206.42,219.2v2.5M206.42,32.8v-2.5M222.33,219.2v2.5M222.33,32.8v-2.5M238.25,219.2v3.8M238.25,32.8v-3.8M254.17,219.2v2.5M254.17,32.8v-2.5M270.08,219.2v2.5M270.08,32.8v-2.5M286.00,219.2v3.8M286.00,32.8v-3.8M301.92,219.2v2.5M301.92,32.8v-2.5M317.83,219.2v2.5M317.83,32.8v-2.5M333.75,219.2v3.8M333.75,32.8v-3.8M349.67,219.2v2.5M349.67,32.8v-2.5M365.58,219.2v2.5M365.58,32.8v-2.5M381.50,219.2v3.8M381.50,32.8v-3.8M95.0,219.03h-2.5M381.5,219.03h2.5M95.0,215.61h-2.5M381.5,215.61h2.5M95.0,212.71h-2.5M381.5,212.71h2.5M95.0,210.20h-2.5M381.5,210.20h2.5M95.0,207.98h-2.5M381.5,207.98h2.5M95.0,206.00h-3.8M381.5,206.00h3.8M95.0,192.97h-2.5M381.5,192.97h2.5M95.0,185.34h-2.5M381.5,185.34h2.5M95.0,179.93h-2.5M381.5,179.93h2.5M95.0,175.73h-2.5M381.5,175.73h2.5M95.0,172.31h-2.5M381.5,172.31h2.5M95.0,169.41h-2.5M381.5,169.41h2.5M95.0,166.90h-2.5M381.5,166.90h2.5M95.0,164.68h-2.5M381.5,164.68h2.5M95.0,162.70h-3.8M381.5,162.70h3.8M95.0,149.67h-2.5M381.5,149.67h2.5M95.0,142.04h-2.5M381.5,142.04h2.5M95.0,136.63h-2.5M381.5,136.63h2.5M95.0,132.43h-2.5M381.5,132.43h2.5M95.0,129.01h-2.5M381.5,129.01h2.5M95.0,126.11h-2.5M381.5,126.11h2.5M95.0,123.60h-2.5M381.5,123.60h2.5M95.0,121.38h-2.5M381.5,121.38h2.5M95.0,119.40h-3.8M381.5,119.40h3.8M95.0,106.37h-2.5M381.5,106.37h2.5M95.0,98.74h-2.5M381.5,98.74h2.5M95.0,93.33h-2.5M381.5,93.33h2.5M95.0,89.13h-2.5M381.5,89.13h2.5M95.0,85.71h-2.5M381.5,85.71h2.5M95.0,82.81h-2.5M381.5,82.81h2.5M95.0,80.30h-2.5M381.5,80.30h2.5M95.0,78.08h-2.5M381.5,78.08h2.5M95.0,76.10h-3.8M381.5,76.10h3.8M95.0,63.07h-2.5M381.5,63.07h2.5M95.0,55.44h-2.5M381.5,55.44h2.5M95.0,50.03h-2.5M381.5,50.03h2.5M95.0,45.83h-2.5M381.5,45.83h2.5M95.0,42.41h-2.5M381.5,42.41h2.5M95.0,39.51h-2.5M381.5,39.51h2.5M95.0,37.00h-2.5M381.5,37.00h2.5M95.0,34.78h-2.5M381.5,34.78h2.5M95.0,32.80h-3.8M381.5,32.80h3.8" stroke="#000" stroke-width="1.25" fill="none"/>
<text x="84.9" y="37.30" text-anchor="end" font-size="11.4">10</text><text x="84.9" y="32.10" font-size="7.8">3</text><text x="84.9" y="80.60" text-anchor="end" font-size="11.4">10</text><text x="84.9" y="75.40" font-size="7.8">2</text><text x="84.9" y="123.90" text-anchor="end" font-size="11.4">10</text><text x="84.9" y="118.70" font-size="7.8">1</text><text x="84.9" y="167.20" text-anchor="end" font-size="11.4">10</text><text x="84.9" y="162.00" font-size="7.8">0</text><text x="84.9" y="210.50" text-anchor="end" font-size="11.4">10</text><text x="84.9" y="205.30" font-size="7.8">-1</text>
<text x="94.80" y="234.4" text-anchor="middle" font-size="11.4">0</text><text x="142.55" y="234.4" text-anchor="middle" font-size="11.4">30</text><text x="190.30" y="234.4" text-anchor="middle" font-size="11.4">60</text><text x="238.05" y="234.4" text-anchor="middle" font-size="11.4">90</text><text x="285.80" y="234.4" text-anchor="middle" font-size="11.4">120</text><text x="333.55" y="234.4" text-anchor="middle" font-size="11.4">150</text><text x="381.30" y="234.4" text-anchor="middle" font-size="11.4">180</text>
<text transform="translate(66.7,82.6) rotate(-90)" text-anchor="middle">Scattering intensity</text>
<text x="365" y="249.3" text-anchor="middle" font-size="11.9">Angle</text>
<text x="244.6" y="54" font-size="12.1">PNIPAM microgel</text>
<!-- legend -->
<circle cx="110.6" cy="184" r="4.4" fill="#fff" stroke="#000" stroke-width="2"/>
<text x="125.8" y="187.3" font-size="10.77">Experimental data</text>
<path d="M98.4,196.6H122.6" stroke="#ff0000" stroke-width="2.8" stroke-linecap="round"/>
<text x="125.6" y="200.3" font-size="10.77">Multilayer Mie Theory</text>
<path d="M98.4,210.1H106.5M112.9,210.1H113M119.2,210.1H122.6" stroke="#00f000" stroke-width="2.8" stroke-linecap="round"/>
<text x="125.6" y="213.2" font-size="10.77">Raleigh-Gans-Debye Theory</text>
<!-- arrows -->
<path d="M195.5,111H233" stroke="#000" stroke-width="2.2"/>
<path d="M239.2,111L232,107.4V114.6Z" fill="#000"/>
<text x="211.6" y="105.6" font-family="'Liberation Serif',serif" font-weight="bold" font-style="italic" font-size="12">k</text>
<text x="218.7" y="107.5" font-size="7.4">0</text>
<g transform="translate(336.7,86.5) rotate(-29.9)">
<path d="M0,0H30" stroke="#000" stroke-width="2.2"/>
<path d="M36.6,0L29.2,-3.6V3.6Z" fill="#000"/>
</g>
<text x="334" y="71.9" font-family="'Liberation Serif',serif" font-weight="bold" font-style="italic" font-size="12">k</text>
<text x="341.2" y="74.6" font-family="'Liberation Serif',serif" font-style="italic" font-size="10.5">s</text>
</svg>
</body></html>
